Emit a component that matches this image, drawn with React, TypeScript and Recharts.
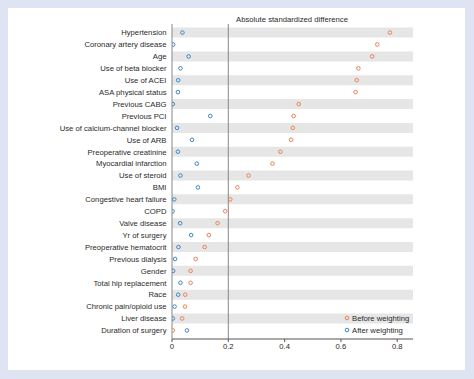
import {
  ReferenceArea,
  ReferenceLine,
  Scatter,
  ScatterChart,
  XAxis,
  YAxis,
} from "recharts";

const covariates = [
  "Hypertension",
  "Coronary artery disease",
  "Age",
  "Use of beta blocker",
  "Use of ACEI",
  "ASA physical status",
  "Previous CABG",
  "Previous PCI",
  "Use of calcium-channel blocker",
  "Use of ARB",
  "Preoperative creatinine",
  "Myocardial infarction",
  "Use of steroid",
  "BMI",
  "Congestive heart failure",
  "COPD",
  "Valve disease",
  "Yr of surgery",
  "Preoperative hematocrit",
  "Previous dialysis",
  "Gender",
  "Total hip replacement",
  "Race",
  "Chronic pain/opioid use",
  "Liver disease",
  "Duration of surgery",
];

const beforeWeighting = [
  0.774, 0.729, 0.711, 0.662, 0.656, 0.652, 0.45, 0.432, 0.429, 0.423, 0.385,
  0.357, 0.272, 0.232, 0.207, 0.189, 0.162, 0.131, 0.116, 0.084, 0.066, 0.066,
  0.047, 0.046, 0.036, 0.003,
];

const afterWeighting = [
  0.037, 0.004, 0.059, 0.03, 0.022, 0.021, 0.003, 0.136, 0.018, 0.071, 0.021,
  0.088, 0.03, 0.092, 0.008, 0.002, 0.029, 0.068, 0.023, 0.011, 0.004, 0.03,
  0.022, 0.009, 0.003, 0.053,
];

const xTicks = [0, 0.2, 0.4, 0.6, 0.8];

const ORANGE = "#ec8156";
const BLUE = "#3f86c2";
const TEXT = "#2a2a2a";
const FONT = "'Liberation Sans', Arial, sans-serif";

const beforeData = covariates.map((name, i) => ({ name, y: i, x: beforeWeighting[i] }));
const afterData = covariates.map((name, i) => ({ name, y: i, x: afterWeighting[i] }));

function Ring(props: any) {
  const { cx, cy, fill } = props;
  if (cx == null || cy == null) return null;
  return <circle cx={cx} cy={cy} r={1.8} fill="none" stroke={fill} strokeWidth={1} />;
}

// plain svg text so long names never wrap
function CovariateTick(props: any) {
  const { y, payload } = props;
  return (
    <text
      x={166.5}
      y={y}
      dy={2.8}
      textAnchor="end"
      fontSize={7.7}
      fontFamily={FONT}
      fill={TEXT}
    >
      {covariates[payload.value]}
    </text>
  );
}

function LegendBox() {
  const items = [
    { label: "Before weighting", color: ORANGE },
    { label: "After weighting", color: BLUE },
  ];
  return (
    <div style={{ position: "absolute", left: 343, top: 312, fontFamily: FONT, fontSize: 7.7, color: TEXT }}>
      {items.map((it) => (
        <div key={it.label} style={{ display: "flex", alignItems: "center", height: 12 }}>
          <svg width={8} height={8} style={{ marginRight: 1 }}>
            <circle cx={4} cy={4} r={1.8} fill="none" stroke={it.color} strokeWidth={1} />
          </svg>
          {it.label}
        </div>
      ))}
    </div>
  );
}

export default function App() {
  return (
    <div
      style={{
        position: "absolute",
        left: 0,
        top: 0,
        width: 474,
        height: 379,
        background: "#dfe4f3",
      }}
    >
      <div
        style={{
          position: "absolute",
          left: 8,
          top: 8,
          width: 457,
          height: 362,
          background: "#fff",
        }}
      />
      <div
        style={{
          position: "absolute",
          left: 172,
          width: 240,
          top: 15,
          textAlign: "center",
          fontFamily: FONT,
          fontSize: 7.7,
          color: TEXT,
        }}
      >
        Absolute standardized difference
      </div>
      <div style={{ position: "absolute", left: 0, top: 0 }}>
        <ScatterChart
          width={474}
          height={379}
          margin={{ top: 24, right: 61, bottom: 10, left: 0 }}
        >
          {covariates.map((name, i) =>
            i % 2 === 0 ? (
              <ReferenceArea
                key={name}
                x1={0}
                x2={0.856}
                y1={i - 0.42}
                y2={i + 0.42}
                fill="#e6e6e6"
                fillOpacity={1}
                stroke="none"
                ifOverflow="hidden"
              />
            ) : null
          )}
          <XAxis
            type="number"
            dataKey="x"
            domain={[0, 0.856]}
            ticks={xTicks}
            tickFormatter={(v: number) => String(v)}
            height={30}
            stroke="#555"
            tickSize={3}
            tick={{ fontSize: 7.7, fill: TEXT, fontFamily: FONT }}
            allowDataOverflow
          />
          <YAxis
            type="number"
            dataKey="y"
            reversed
            domain={[-0.72, 25.72]}
            ticks={covariates.map((_, i) => i)}
            interval={0}
            width={172}
            stroke="#888"
            tickLine={false}
            tick={<CovariateTick />}
            allowDataOverflow
          />
          <ReferenceLine x={0.2} stroke="#888" strokeWidth={1} />
          <Scatter
            name="Before weighting"
            data={beforeData}
            fill={ORANGE}
            shape={<Ring />}
            isAnimationActive={false}
          />
          <Scatter
            name="After weighting"
            data={afterData}
            fill={BLUE}
            shape={<Ring />}
            isAnimationActive={false}
          />
        </ScatterChart>
      </div>
      <LegendBox />
    </div>
  );
}
